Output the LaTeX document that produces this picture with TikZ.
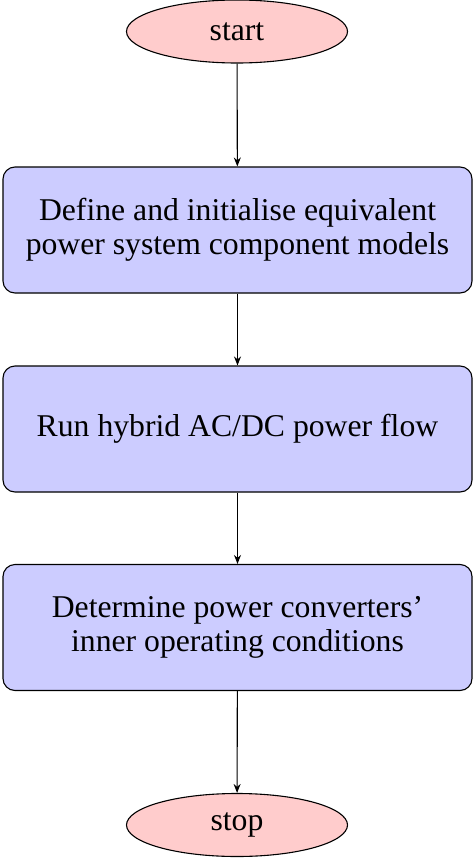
\documentclass[tikz,border=0pt]{standalone}
\usepackage{fontspec}
\setmainfont{Liberation Serif}
\usetikzlibrary{shapes.geometric,arrows.meta}
\begin{document}
\begin{tikzpicture}[x=1pt,y=1pt,
  term/.style={ellipse,draw,line width=1.1pt,fill=red!20,minimum width=221pt,minimum height=63pt,inner sep=0pt,font=\fontsize{31.7}{34.5}\selectfont},
  procbox/.style={rectangle,rounded corners=12pt,draw,line width=1.1pt,fill=blue!20,minimum width=469pt,minimum height=126pt,inner sep=0pt,align=center,font=\fontsize{31.7}{34.5}\selectfont},
  flow/.style={-{Stealth[length=9pt,width=7pt]},line width=1.1pt}]
\useasboundingbox (0,0) rectangle (474,-859);
\node[term] (start) at (237,-31.5) {start};
\node[procbox] (p1) at (237.5,-230) {Define and initialise equivalent\\power system component models};
\node[procbox] (p2) at (237.5,-429) {Run hybrid AC/DC power flow};
\node[procbox] (p3) at (237.5,-627.5) {Determine power converters’\\inner operating conditions};
\node[term] (stop) at (237,-825) {stop};
\draw[flow] (start) -- (p1);
\draw[flow] (p1) -- (p2);
\draw[flow] (p2) -- (p3);
\draw[flow] (p3) -- (stop);
\end{tikzpicture}
\end{document}
